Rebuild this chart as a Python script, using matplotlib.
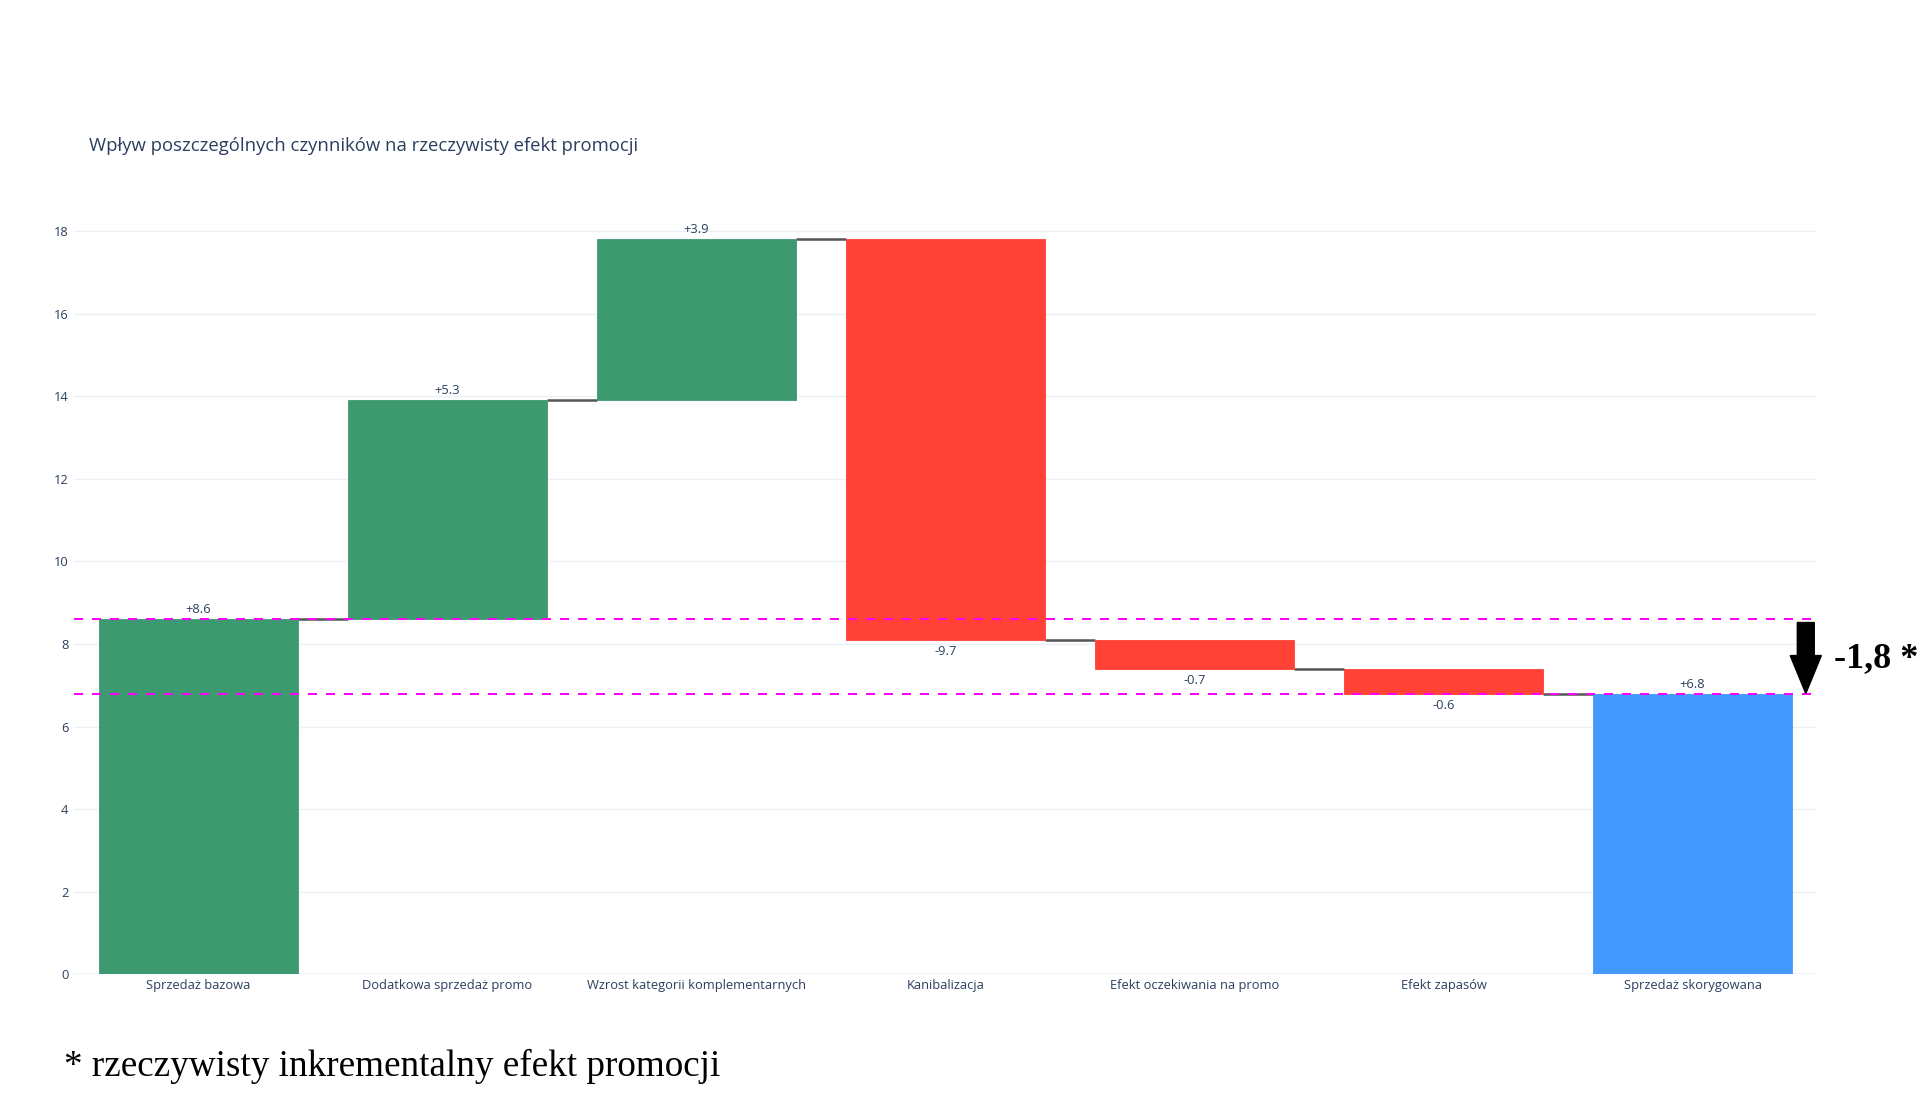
import matplotlib
matplotlib.use("Agg")
import matplotlib.pyplot as plt
from matplotlib.patches import FancyArrow
import numpy as np

categories = ['Sprzedaż bazowa', 'Dodatkowa sprzedaż promo', 'Wzrost kategorii komplementarnych',
              'Kanibalizacja', 'Efekt oczekiwania na promo', 'Efekt zapasów', 'Sprzedaż skorygowana']
values = [8.6, 5.3, 3.9, -9.7, -0.7, -0.6, 6.8]
measures = ['relative', 'relative', 'relative', 'relative', 'relative', 'relative', 'total']
yticks = [0, 2, 4, 6, 8, 10, 12, 14, 16, 18]
title = 'Wpływ poszczególnych czynników na rzeczywisty efekt promocji'
footnote = '* rzeczywisty inkrementalny efekt promocji'
delta_label = '-1,8 *'
ref_levels = [8.6, 6.8]

C_UP, C_DOWN, C_TOT = '#3D9970', '#FF4136', '#4499FF'
TXT = '#2a3f5f'
FS = 9.3
plt.rcParams['font.family'] = ['Open Sans', 'DejaVu Sans']

fig = plt.figure(figsize=(19.2, 11.2), dpi=100)
ax = fig.add_axes([74/1920, 1-974.4/1120, (1817-74)/1920, (974.4-200.4)/1120])
ax.set_xlim(-0.5, 6.5)
ax.set_ylim(0, 18.74)

x = np.arange(len(categories))
w = 0.8
cum = 0.0
ends = []
for i, (v, m) in enumerate(zip(values, measures)):
    if m == 'total':
        base, top = 0, v
        color = C_TOT
        cum = v
    else:
        base = cum
        top = cum + v
        color = C_UP if v >= 0 else C_DOWN
        cum = top
    lo, hi = min(base, top), max(base, top)
    ax.bar(x[i], hi - lo, bottom=lo, width=w, color=color, zorder=3,
           edgecolor=color, linewidth=0.6)
    ends.append(cum)
    lab = f"{v:+.1f}"
    if v >= 0:
        ax.annotate(lab, (x[i], hi), xytext=(0, 3), textcoords='offset pixels',
                    ha='center', va='bottom', fontsize=FS, color=TXT, zorder=5)
    else:
        ax.annotate(lab, (x[i], lo), xytext=(0, -5), textcoords='offset pixels',
                    ha='center', va='top', fontsize=FS, color=TXT, zorder=5)

# connectors
for i in range(len(values) - 1):
    ax.plot([x[i] + w/2, x[i+1] - w/2], [ends[i], ends[i]], color='#555555',
            linewidth=1.8, zorder=2, solid_capstyle='butt')

# grid
for t in yticks:
    ax.axhline(t, color='#EBF0F8', linewidth=2 if t == 0 else 1, zorder=1)
for s in ax.spines.values():
    s.set_visible(False)
ax.set_yticks(yticks)
ax.set_xticks(x)
ax.set_xticklabels(categories)
ax.tick_params(axis='both', length=0, labelsize=FS, labelcolor=TXT)
ax.tick_params(axis='y', pad=4)
ax.tick_params(axis='x', pad=3)

# reference dashed lines
for lv in ref_levels:
    ax.plot([-0.5, 6.48], [lv, lv], color='#FF00FF', linewidth=1.44,
            dashes=(4.5, 4.5), zorder=6, clip_on=False)

# arrow
arr = FancyArrow(6.455, 8.52, 0, ref_levels[1] - 8.52, width=0.068, head_width=0.125,
                 head_length=0.92, length_includes_head=True, color='black',
                 zorder=7, clip_on=False)
ax.add_patch(arr)

fig.text(1834/1920, 1-659/1120, delta_label, ha='left', va='center', fontsize=26,
         fontweight='bold', family=['Liberation Serif', 'DejaVu Serif'], color='black')

fig.text(89/1920, 1-146/1120, title, ha='left', va='center', fontsize=13.3, color=TXT)
fig.text(64/1920, 1-1066/1120, footnote, ha='left', va='center', fontsize=26.7,
         family=['Liberation Serif', 'DejaVu Serif'], color='black')

fig.savefig('out.png', dpi=100, facecolor='white')
